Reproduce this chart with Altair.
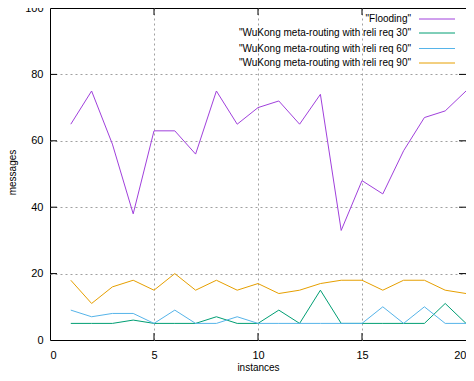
import altair as alt
import pandas as pd

instances = list(range(1, 21))
flooding = [65, 75, 59, 38, 63, 63, 56, 75, 65, 70, 72, 65, 74, 33, 48, 44, 57, 67, 69, 75]
req30 = [5, 5, 5, 6, 5, 5, 5, 7, 5, 5, 9, 5, 15, 5, 5, 5, 5, 5, 11, 5]
req60 = [9, 7, 8, 8, 5, 9, 5, 5, 7, 5, 5, 5, 5, 5, 5, 10, 5, 10, 5, 5]
req90 = [18, 11, 16, 18, 15, 20, 15, 18, 15, 17, 14, 15, 17, 18, 18, 15, 18, 18, 15, 14]

series_names = [
    '"Flooding"',
    '"WuKong meta-routing with reli req 30"',
    '"WuKong meta-routing with reli req 60"',
    '"WuKong meta-routing with reli req 90"',
]
series_colors = ["#a040dc", "#009e73", "#56b4e9", "#e69f00"]
x_ticks = [0, 5, 10, 15, 20]
y_ticks = [0, 20, 40, 60, 80, 100]

W, H = 416, 332
FONT = "Liberation Sans"

rows = []
for name, vals in zip(series_names, [flooding, req30, req60, req90]):
    for xi, v in zip(instances, vals):
        rows.append({"instances": xi, "messages": v, "series": name})
df = pd.DataFrame(rows)

grid_cond_x = {"condition": {"test": "datum.value == 0 || datum.value == 20", "value": 0}, "value": 1}
grid_cond_y = {"condition": {"test": "datum.value == 0 || datum.value == 100", "value": 0}, "value": 1}

xs = alt.X(
    "instances:Q",
    scale=alt.Scale(domain=[0, 20], nice=False),
    axis=alt.Axis(
        values=x_ticks, title="instances", grid=True, gridDash=[2, 3], gridColor="#a0a0a0",
        gridOpacity=grid_cond_x, ticks=False, domain=False, labelPadding=9,
        labelFont=FONT, labelFontSize=11, labelColor="black",
        titleFont=FONT, titleFontSize=10, titleFontWeight="normal", titleColor="black",
        titleY=22, titleBaseline="top",
    ),
)
ys = alt.Y(
    "messages:Q",
    scale=alt.Scale(domain=[0, 100], nice=False),
    axis=alt.Axis(
        values=y_ticks, title="messages", grid=True, gridDash=[2, 3], gridColor="#a0a0a0",
        gridOpacity=grid_cond_y, ticks=False, domain=False, labelPadding=7,
        labelFont=FONT, labelFontSize=11, labelColor="black",
        titleFont=FONT, titleFontSize=10, titleFontWeight="normal", titleColor="black",
        titleX=-33, titleY=164,
    ),
)

lines = alt.Chart(df).mark_line(strokeWidth=1).encode(
    x=xs,
    y=ys,
    color=alt.Color("series:N", scale=alt.Scale(domain=series_names, range=series_colors), legend=None),
    detail="series:N",
)

tx = pd.DataFrame({"t": [5, 10, 15]})
ty = pd.DataFrame({"t": [20, 40, 60, 80]})
tick_kw = dict(color="black", strokeWidth=1)
bottom_ticks = alt.Chart(tx).mark_rule(**tick_kw).encode(x="t:Q", y=alt.value(H), y2=alt.value(H - 7))
top_ticks = alt.Chart(tx).mark_rule(**tick_kw).encode(x="t:Q", y=alt.value(0), y2=alt.value(7))
left_ticks = alt.Chart(ty).mark_rule(**tick_kw).encode(y="t:Q", x=alt.value(0), x2=alt.value(7))
right_ticks = alt.Chart(ty).mark_rule(**tick_kw).encode(y="t:Q", x=alt.value(W), x2=alt.value(W - 7))

legend_layers = []
leg_y = [11, 25, 40.5, 55]
leg_df = pd.DataFrame({"label": series_names, "color": series_colors})
for i, (name, col) in enumerate(zip(series_names, series_colors)):
    one = leg_df.iloc[[i]]
    legend_layers.append(
        alt.Chart(one).mark_text(align="right", baseline="middle", font=FONT, fontSize=10, color="black").encode(
            text="label:N", x=alt.value(361), y=alt.value(leg_y[i])
        )
    )
    legend_layers.append(
        alt.Chart(one).mark_rule(color=col, strokeWidth=1).encode(
            x=alt.value(369), x2=alt.value(405), y=alt.value(leg_y[i])
        )
    )

chart = alt.layer(
    lines, bottom_ticks, top_ticks, left_ticks, right_ticks, *legend_layers
).properties(
    width=W, height=H,
    autosize=alt.AutoSizeParams(type="none"),
    padding={"left": 42, "top": 0, "right": 0, "bottom": 33},
    background="white",
).configure_view(stroke="black", strokeWidth=1)

chart.save("out.html", embed_options={"renderer": "svg", "actions": False})
